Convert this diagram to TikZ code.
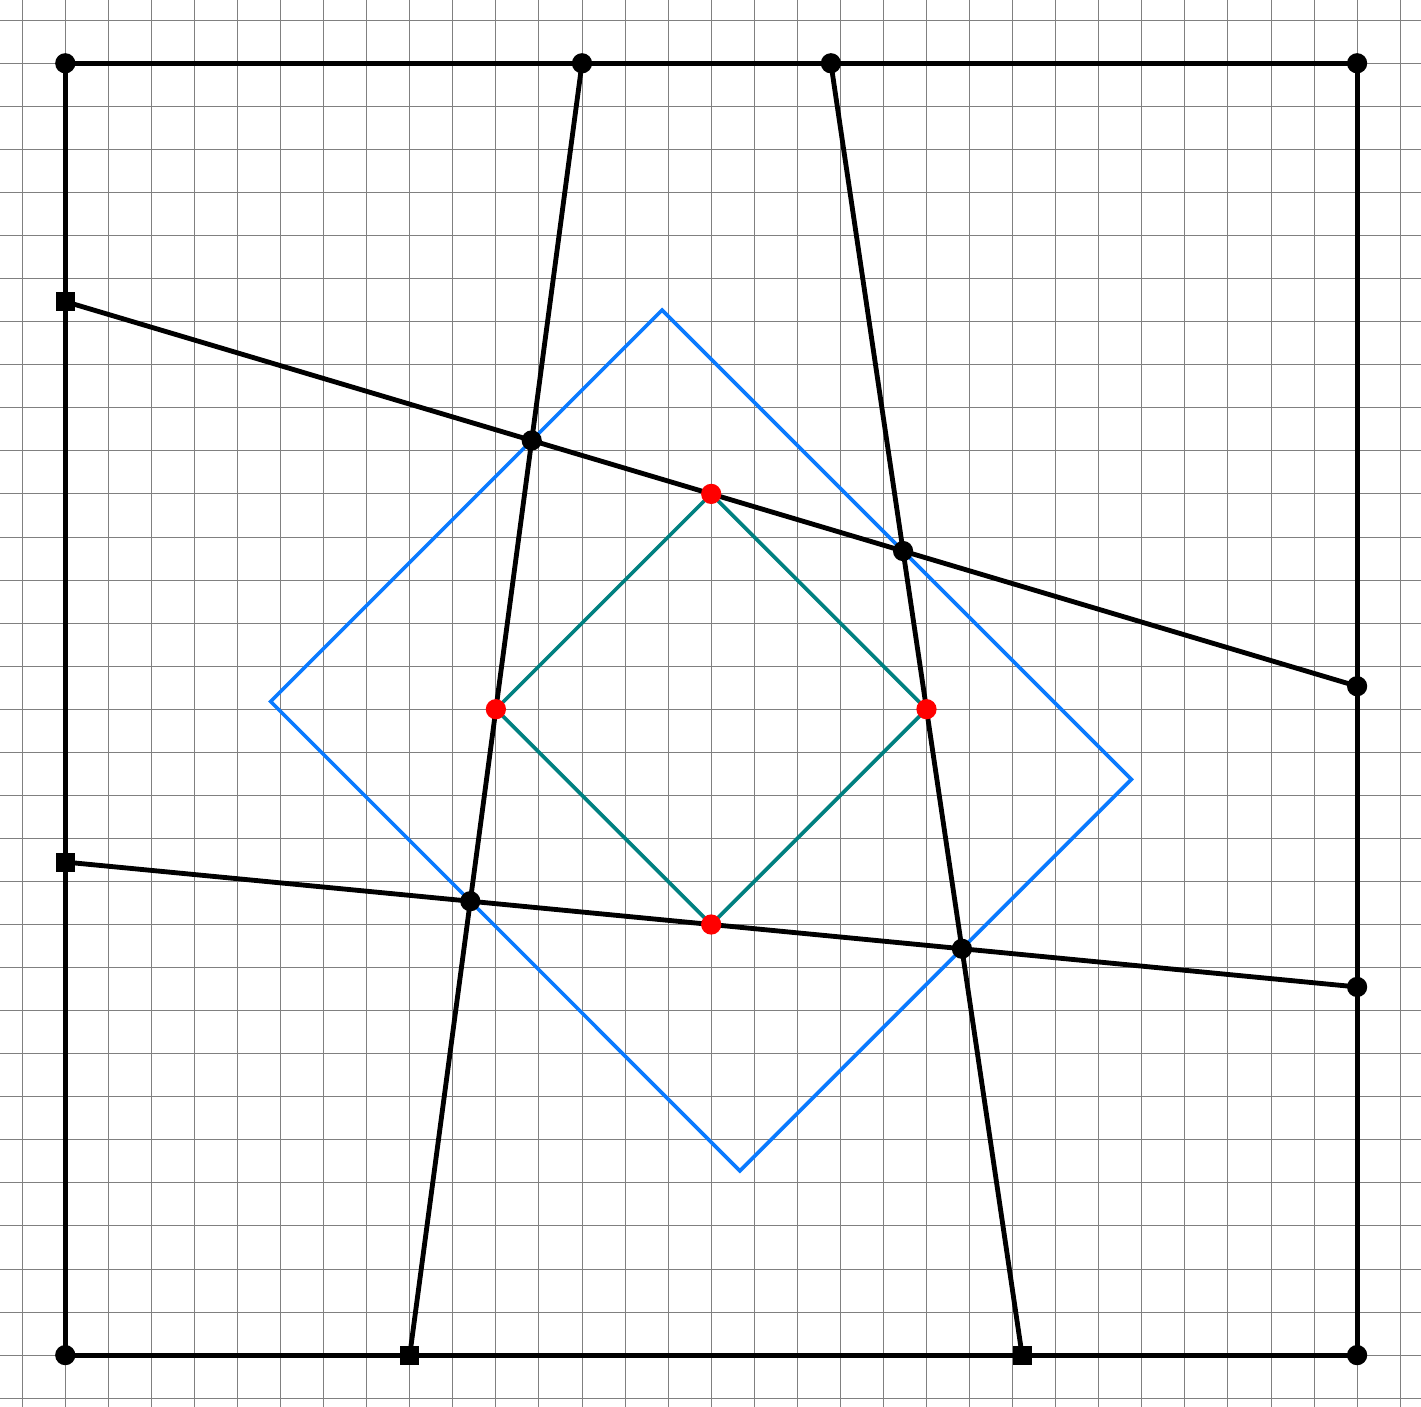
\documentclass[tikz,border=0pt]{standalone}
\definecolor{rectblue}{RGB}{10,122,255}
\begin{document}
\begin{tikzpicture}[
    dot/.style={circle,fill=black,inner sep=0pt,minimum size=0.47cm},
    box/.style={rectangle,fill=black,inner sep=0pt,minimum size=0.44cm},
    hit/.style={dot,fill=red},
    edge/.style={line width=3.2pt}]
  \useasboundingbox (-1.516,-1.2) rectangle (31.484,31.47);
  \draw[gray,line width=0.6pt] (-1.516,-1.2) grid (31.484,31.47);
  % frame and points on it
  \draw
    (0,0) coordinate (c0)
    (30,0) coordinate (c1)
    (30,30) coordinate (c2)
    (0,30) coordinate (c3)
    (12,30) coordinate (t1)
    (17.78,30) coordinate (t2)
    (8,0) coordinate (b1)
    (22.22,0) coordinate (b2)
    (0,24.466) coordinate (l1)
    (0,11.45) coordinate (l2)
    (30,15.534) coordinate (r1)
    (30,8.55) coordinate (r2);
  % crossings of the lines
  \draw
    (10.832,21.241) coordinate (p1)
    (19.456,18.673) coordinate (p2)
    (9.4055,10.541) coordinate (p3)
    (20.823,9.4369) coordinate (p4);
  % inner square
  \draw
    (15,20) coordinate (q1)
    (10,15) coordinate (q2)
    (15,10) coordinate (q3)
    (20,15) coordinate (q4);
  % outer rectangle
  \draw
    (13.86,24.269) coordinate (o1)
    (4.769,15.178) coordinate (o2)
    (15.666,4.280) coordinate (o3)
    (24.758,13.371) coordinate (o4);
  \begin{scope}[edge]
    \draw (c0) -- (c1) -- (c2) -- (c3) -- cycle;
    \draw (t1) to (b1);
    \draw (t2) to (b2);
    \draw (l1) to (r1);
    \draw (l2) to (r2);
  \end{scope}
  \draw[rectblue,line width=2.4pt] (o1) -- (o2) -- (o3) -- (o4) -- cycle;
  \draw[teal,line width=2.4pt] (q1) -- (q2) -- (q3) -- (q4) -- cycle;
  \foreach \p in {c0,c1,c2,c3,t1,t2,r1,r2,p1,p2,p3,p4}
    \node[dot] at (\p) {};
  \foreach \p in {b1,b2,l1,l2}
    \node[box] at (\p) {};
  \foreach \p in {q1,q2,q3,q4}
    \node[hit] at (\p) {};
\end{tikzpicture}
\end{document}
